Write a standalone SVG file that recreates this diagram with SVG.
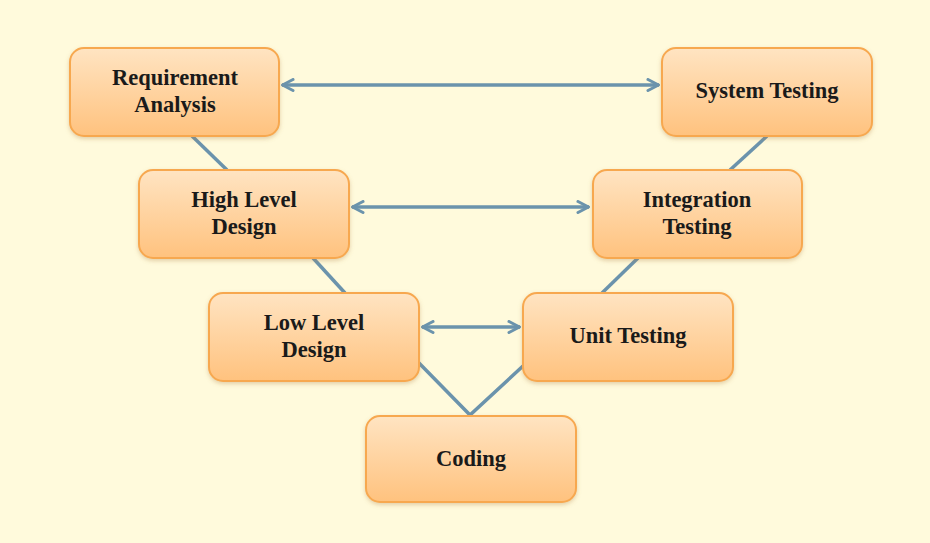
<svg xmlns="http://www.w3.org/2000/svg" width="930" height="543" viewBox="0 0 930 543">
<defs>
<linearGradient id="g" x1="0" y1="0" x2="0" y2="1">
<stop offset="0" stop-color="#FFE4C2"/>
<stop offset="1" stop-color="#FFC27E"/>
</linearGradient>
<filter id="sh" x="-10%" y="-10%" width="120%" height="130%">
<feDropShadow dx="0" dy="2" stdDeviation="2" flood-color="#B08040" flood-opacity="0.35"/>
</filter>
<marker id="ah" viewBox="0 0 14 14" refX="13" refY="7" markerWidth="14" markerHeight="14" markerUnits="userSpaceOnUse" orient="auto-start-reverse">
<path d="M2,1.5 L12.5,7 L2,12.5" fill="none" stroke="#6B93AC" stroke-width="3" stroke-linecap="round" stroke-linejoin="round"/>
</marker>
<style>
.box{fill:url(#g);stroke:#F7A850;stroke-width:2;filter:url(#sh)}
.t{font-family:"Liberation Serif","DejaVu Serif",serif;font-weight:bold;font-size:22.5px;fill:#1a1a1a;text-anchor:middle}
.c{stroke:#6B93AC;stroke-width:3.5;fill:none}
</style>
</defs>
<rect width="930" height="543" fill="#FFFADC"/>
<g id="connectors">
<line class="c" x1="192" y1="136" x2="227" y2="170"/>
<line class="c" x1="313" y1="258" x2="345" y2="293"/>
<polyline class="c" points="418,362 470,415 523,366"/>
<line class="c" x1="767" y1="136" x2="730" y2="170"/>
<line class="c" x1="638" y1="258" x2="602" y2="293"/>
<line class="c" x1="282" y1="85" x2="659" y2="85" marker-start="url(#ah)" marker-end="url(#ah)"/>
<line class="c" x1="352" y1="207" x2="589" y2="207" marker-start="url(#ah)" marker-end="url(#ah)"/>
<line class="c" x1="422" y1="327" x2="520" y2="327" marker-start="url(#ah)" marker-end="url(#ah)"/>
</g>
<g id="requirement-analysis">
<rect class="box" x="70" y="48" width="209" height="88" rx="14"/>
<text class="t" x="175" y="85">Requirement</text>
<text class="t" x="175" y="112">Analysis</text>
</g>
<g id="system-testing">
<rect class="box" x="662" y="48" width="210" height="88" rx="14"/>
<text class="t" x="767" y="98">System Testing</text>
</g>
<g id="high-level-design">
<rect class="box" x="139" y="170" width="210" height="88" rx="14"/>
<text class="t" x="244" y="207">High Level</text>
<text class="t" x="244" y="234">Design</text>
</g>
<g id="integration-testing">
<rect class="box" x="593" y="170" width="209" height="88" rx="14"/>
<text class="t" x="697" y="207">Integration</text>
<text class="t" x="697" y="234">Testing</text>
</g>
<g id="low-level-design">
<rect class="box" x="209" y="293" width="210" height="88" rx="14"/>
<text class="t" x="314" y="330">Low Level</text>
<text class="t" x="314" y="357">Design</text>
</g>
<g id="unit-testing">
<rect class="box" x="523" y="293" width="210" height="88" rx="14"/>
<text class="t" x="628" y="343">Unit Testing</text>
</g>
<g id="coding">
<rect class="box" x="366" y="416" width="210" height="86" rx="14"/>
<text class="t" x="471" y="466">Coding</text>
</g>
</svg>
